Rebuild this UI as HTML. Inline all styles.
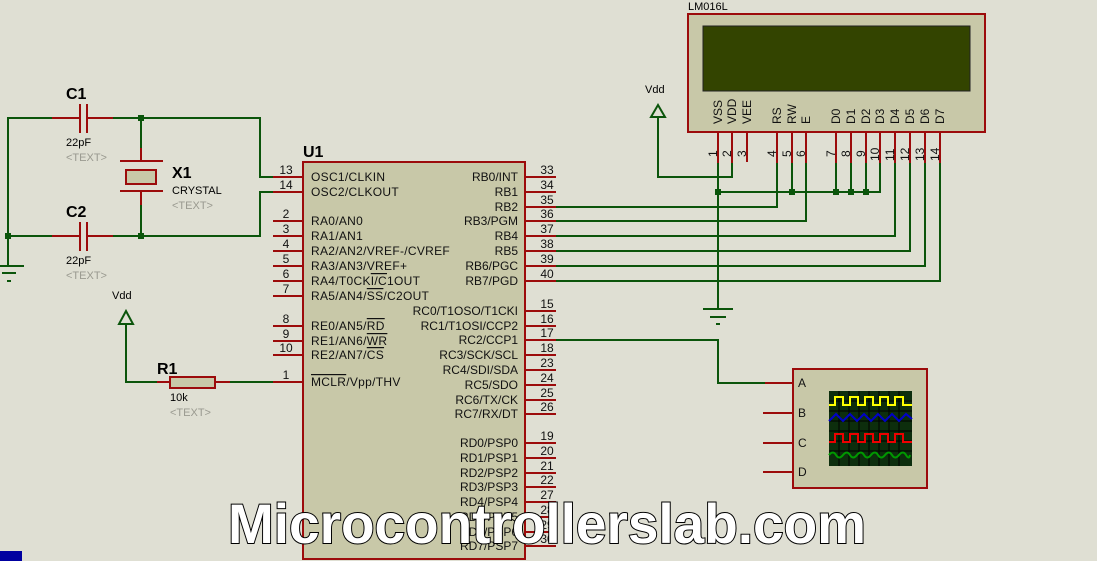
<!DOCTYPE html>
<html><head><meta charset="utf-8"><style>
html,body{margin:0;padding:0;background:#dfdfd3;}
svg{display:block;font-family:"Liberation Sans",sans-serif;}
.ov{text-decoration:overline;}
</style></head><body>
<svg width="1097" height="561" viewBox="0 0 1097 561" xmlns="http://www.w3.org/2000/svg">
<rect width="1097" height="561" fill="#dfdfd3"/>
<g fill="none" stroke="#0b550b" stroke-width="2">
<polyline points="52,118 8,118 8,266"/>
<line x1="8" y1="236" x2="52" y2="236"/>
<polyline points="113,118 260,118 260,177 273,177"/>
<polyline points="113,236 260,236 260,192 273,192"/>
<line x1="141" y1="118" x2="141" y2="148"/>
<line x1="141" y1="205" x2="141" y2="236"/>
<polyline points="126,324 126,382 157,382"/>
<line x1="230" y1="382" x2="273" y2="382"/>
<polyline points="658,117 658,177 732,177 732,163"/>
<line x1="718" y1="163" x2="718" y2="309"/>
<polyline points="718,192 880,192 880,163"/>
<line x1="792" y1="163" x2="792" y2="192"/>
<line x1="836" y1="163" x2="836" y2="192"/>
<line x1="851" y1="163" x2="851" y2="192"/>
<line x1="866" y1="163" x2="866" y2="192"/>
<polyline points="556,207 777,207 777,163"/>
<polyline points="556,221 806,221 806,163"/>
<polyline points="556,236 895,236 895,163"/>
<polyline points="556,251 910,251 910,163"/>
<polyline points="556,266 925,266 925,163"/>
<polyline points="556,281 940,281 940,163"/>
<polyline points="556,340 718,340 718,383 765,383"/>
</g>
<g fill="#0b550b">
<rect x="138" y="115" width="6" height="6"/><rect x="138" y="233" width="6" height="6"/><rect x="5" y="233" width="6" height="6"/>
<rect x="715" y="189" width="6" height="6"/><rect x="789" y="189" width="6" height="6"/><rect x="833" y="189" width="6" height="6"/><rect x="848" y="189" width="6" height="6"/><rect x="863" y="189" width="6" height="6"/>
<rect x="0" y="265" width="24" height="2"/><rect x="2" y="272" width="14" height="2"/><rect x="7" y="280" width="4" height="2"/>
<rect x="703" y="308" width="30" height="2"/><rect x="710" y="316" width="16" height="2"/><rect x="716" y="323" width="4" height="2"/>
</g>
<g fill="none" stroke="#0b550b" stroke-width="2">
<polygon points="658,105 651,117 665,117"/>
<polygon points="126,311 119,324 133,324"/>
</g>
<g font-size="11" fill="#000">
<text x="645" y="93">Vdd</text>
<text x="112" y="299">Vdd</text>
</g>
<g stroke="#9c0b0b" stroke-width="2" fill="none">
<line x1="52" y1="118" x2="80" y2="118"/><line x1="87" y1="118" x2="113" y2="118"/>
<line x1="80" y1="104" x2="80" y2="133"/><line x1="87" y1="104" x2="87" y2="133"/>
<line x1="52" y1="236" x2="80" y2="236"/><line x1="87" y1="236" x2="113" y2="236"/>
<line x1="80" y1="222" x2="80" y2="251"/><line x1="87" y1="222" x2="87" y2="251"/>
<line x1="141" y1="148" x2="141" y2="161"/><line x1="141" y1="191" x2="141" y2="205"/>
<line x1="120" y1="161" x2="163" y2="161"/><line x1="120" y1="191" x2="163" y2="191"/>
<rect x="126" y="170" width="30" height="14" fill="#c8c8a8"/>
<line x1="157" y1="382" x2="170" y2="382"/><line x1="215" y1="382" x2="230" y2="382"/>
<rect x="170" y="377" width="45" height="11" fill="#c8c8a8"/>
</g>
<g fill="#000">
<text x="66" y="99" font-size="16" font-weight="bold">C1</text>
<text x="66" y="217" font-size="16" font-weight="bold">C2</text>
<text x="172" y="178" font-size="16" font-weight="bold">X1</text>
<text x="157" y="374" font-size="16" font-weight="bold">R1</text>
<text x="303" y="157" font-size="16" font-weight="bold">U1</text>
<text x="66" y="146" font-size="11">22pF</text>
<text x="66" y="264" font-size="11">22pF</text>
<text x="172" y="194" font-size="11">CRYSTAL</text>
<text x="170" y="401" font-size="11">10k</text>
<text x="688" y="10" font-size="11">LM016L</text>
</g>
<g fill="#9a9a90" font-size="11">
<text x="66" y="161">&lt;TEXT&gt;</text><text x="66" y="279">&lt;TEXT&gt;</text>
<text x="172" y="209">&lt;TEXT&gt;</text><text x="170" y="416">&lt;TEXT&gt;</text>
<text x="688" y="23">&lt;TEXT&gt;</text>
</g>
<rect x="303" y="162" width="222" height="397" fill="#c8c8a8" stroke="#9c0b0b" stroke-width="2"/>
<g stroke="#9c0b0b" stroke-width="2">
<line x1="273" y1="177" x2="303" y2="177"/><line x1="273" y1="192" x2="303" y2="192"/>
<line x1="273" y1="221" x2="303" y2="221"/><line x1="273" y1="236" x2="303" y2="236"/>
<line x1="273" y1="251" x2="303" y2="251"/><line x1="273" y1="266" x2="303" y2="266"/>
<line x1="273" y1="281" x2="303" y2="281"/><line x1="273" y1="296" x2="303" y2="296"/>
<line x1="273" y1="326" x2="303" y2="326"/><line x1="273" y1="341" x2="303" y2="341"/>
<line x1="273" y1="355" x2="303" y2="355"/><line x1="273" y1="382" x2="303" y2="382"/>
<line x1="525" y1="177" x2="556" y2="177"/><line x1="525" y1="192" x2="556" y2="192"/>
<line x1="525" y1="207" x2="556" y2="207"/><line x1="525" y1="221" x2="556" y2="221"/>
<line x1="525" y1="236" x2="556" y2="236"/><line x1="525" y1="251" x2="556" y2="251"/>
<line x1="525" y1="266" x2="556" y2="266"/><line x1="525" y1="281" x2="556" y2="281"/>
<line x1="525" y1="311" x2="556" y2="311"/><line x1="525" y1="326" x2="556" y2="326"/>
<line x1="525" y1="340" x2="556" y2="340"/><line x1="525" y1="355" x2="556" y2="355"/>
<line x1="525" y1="370" x2="556" y2="370"/><line x1="525" y1="385" x2="556" y2="385"/>
<line x1="525" y1="400" x2="556" y2="400"/><line x1="525" y1="414" x2="556" y2="414"/>
<line x1="525" y1="443" x2="556" y2="443"/><line x1="525" y1="458" x2="556" y2="458"/>
<line x1="525" y1="473" x2="556" y2="473"/><line x1="525" y1="487" x2="556" y2="487"/>
<line x1="525" y1="502" x2="556" y2="502"/><line x1="525" y1="517" x2="556" y2="517"/>
<line x1="525" y1="532" x2="556" y2="532"/><line x1="525" y1="546" x2="556" y2="546"/>
</g>
<g font-size="12" fill="#111" letter-spacing="0.3">
<text x="311" y="181">OSC1/CLKIN</text><text x="311" y="196">OSC2/CLKOUT</text>
<text x="311" y="225">RA0/AN0</text><text x="311" y="240">RA1/AN1</text>
<text x="311" y="255">RA2/AN2/VREF-/CVREF</text><text x="311" y="270">RA3/AN3/VREF+</text>
<text x="311" y="285">RA4/T0CK<tspan class="ov">I/C</tspan>1OUT</text><text x="311" y="300">RA5/AN4/<tspan class="ov">SS</tspan>/C2OUT</text>
<text x="311" y="330">RE0/AN5/<tspan class="ov">RD</tspan></text><text x="311" y="345">RE1/AN6/<tspan class="ov">WR</tspan></text>
<text x="311" y="359">RE2/AN7/<tspan class="ov">CS</tspan></text><text x="311" y="386"><tspan class="ov">MCLR</tspan>/Vpp/THV</text>
</g>
<g font-size="12" fill="#111" text-anchor="end">
<text x="518" y="181">RB0/INT</text><text x="518" y="196">RB1</text><text x="518" y="211">RB2</text>
<text x="518" y="225">RB3/PGM</text><text x="518" y="240">RB4</text><text x="518" y="255">RB5</text>
<text x="518" y="270">RB6/PGC</text><text x="518" y="285">RB7/PGD</text>
<text x="518" y="315">RC0/T1OSO/T1CKI</text><text x="518" y="330">RC1/T1OSI/CCP2</text>
<text x="518" y="344">RC2/CCP1</text><text x="518" y="359">RC3/SCK/SCL</text>
<text x="518" y="374">RC4/SDI/SDA</text><text x="518" y="389">RC5/SDO</text>
<text x="518" y="404">RC6/TX/CK</text><text x="518" y="418">RC7/RX/DT</text>
<text x="518" y="447">RD0/PSP0</text><text x="518" y="462">RD1/PSP1</text>
<text x="518" y="477">RD2/PSP2</text><text x="518" y="491">RD3/PSP3</text>
<text x="518" y="506">RD4/PSP4</text><text x="518" y="521">RD5/PSP5</text>
<text x="518" y="536">RD6/PSP6</text><text x="518" y="550">RD7/PSP7</text>
</g>
<g font-size="12" fill="#111" text-anchor="middle">
<text x="286" y="174">13</text><text x="286" y="189">14</text><text x="286" y="218">2</text>
<text x="286" y="233">3</text><text x="286" y="248">4</text><text x="286" y="263">5</text>
<text x="286" y="278">6</text><text x="286" y="293">7</text><text x="286" y="323">8</text>
<text x="286" y="338">9</text><text x="286" y="352">10</text><text x="286" y="379">1</text>
<text x="547" y="174">33</text><text x="547" y="189">34</text><text x="547" y="204">35</text>
<text x="547" y="218">36</text><text x="547" y="233">37</text><text x="547" y="248">38</text>
<text x="547" y="263">39</text><text x="547" y="278">40</text><text x="547" y="308">15</text>
<text x="547" y="323">16</text><text x="547" y="337">17</text><text x="547" y="352">18</text>
<text x="547" y="367">23</text><text x="547" y="382">24</text><text x="547" y="397">25</text>
<text x="547" y="411">26</text><text x="547" y="440">19</text><text x="547" y="455">20</text>
<text x="547" y="470">21</text><text x="547" y="484">22</text><text x="547" y="499">27</text>
<text x="547" y="514">28</text><text x="547" y="529">29</text><text x="547" y="543">30</text>
</g>
<rect x="688" y="14" width="297" height="118" fill="#c8c8a8" stroke="#9c0b0b" stroke-width="2"/>
<rect x="703" y="26" width="267" height="65" fill="#334400" stroke="#222" stroke-width="1"/>
<g stroke="#9c0b0b" stroke-width="2">
<line x1="718" y1="132" x2="718" y2="163"/><line x1="732" y1="132" x2="732" y2="163"/><line x1="747" y1="132" x2="747" y2="162"/>
<line x1="777" y1="132" x2="777" y2="163"/><line x1="792" y1="132" x2="792" y2="163"/><line x1="806" y1="132" x2="806" y2="163"/>
<line x1="836" y1="132" x2="836" y2="163"/><line x1="851" y1="132" x2="851" y2="163"/><line x1="866" y1="132" x2="866" y2="163"/>
<line x1="880" y1="132" x2="880" y2="163"/><line x1="895" y1="132" x2="895" y2="163"/><line x1="910" y1="132" x2="910" y2="163"/>
<line x1="925" y1="132" x2="925" y2="163"/><line x1="940" y1="132" x2="940" y2="163"/>
</g>
<g font-size="12" fill="#111">
<text transform="translate(722,124) rotate(-90)">VSS</text><text transform="translate(736,124) rotate(-90)">VDD</text>
<text transform="translate(751,124) rotate(-90)">VEE</text><text transform="translate(781,124) rotate(-90)">RS</text>
<text transform="translate(796,124) rotate(-90)">RW</text><text transform="translate(810,124) rotate(-90)">E</text>
<text transform="translate(840,124) rotate(-90)">D0</text><text transform="translate(855,124) rotate(-90)">D1</text>
<text transform="translate(870,124) rotate(-90)">D2</text><text transform="translate(884,124) rotate(-90)">D3</text>
<text transform="translate(899,124) rotate(-90)">D4</text><text transform="translate(914,124) rotate(-90)">D5</text>
<text transform="translate(929,124) rotate(-90)">D6</text><text transform="translate(944,124) rotate(-90)">D7</text>
<text transform="translate(717,157) rotate(-90)">1</text><text transform="translate(731,157) rotate(-90)">2</text>
<text transform="translate(746,157) rotate(-90)">3</text><text transform="translate(776,157) rotate(-90)">4</text>
<text transform="translate(791,157) rotate(-90)">5</text><text transform="translate(805,157) rotate(-90)">6</text>
<text transform="translate(835,157) rotate(-90)">7</text><text transform="translate(850,157) rotate(-90)">8</text>
<text transform="translate(865,157) rotate(-90)">9</text><text transform="translate(879,161) rotate(-90)">10</text>
<text transform="translate(894,161) rotate(-90)">11</text><text transform="translate(909,161) rotate(-90)">12</text>
<text transform="translate(924,161) rotate(-90)">13</text><text transform="translate(939,161) rotate(-90)">14</text>
</g>
<rect x="793" y="369" width="134" height="119" fill="#c8c8a8" stroke="#9c0b0b" stroke-width="2"/>
<g stroke="#9c0b0b" stroke-width="2">
<line x1="765" y1="383" x2="793" y2="383"/><line x1="763" y1="413" x2="793" y2="413"/>
<line x1="763" y1="443" x2="793" y2="443"/><line x1="763" y1="472" x2="793" y2="472"/>
</g>
<g font-size="12" fill="#111"><text x="798" y="387">A</text><text x="798" y="417">B</text><text x="798" y="447">C</text><text x="798" y="476">D</text></g>
<rect x="829" y="391" width="83" height="75" fill="#0d2e0d"/>
<g stroke="#000" stroke-width="1">
<line x1="829" y1="401" x2="912" y2="401"/><line x1="829" y1="411" x2="912" y2="411"/><line x1="829" y1="421" x2="912" y2="421"/>
<line x1="829" y1="431" x2="912" y2="431"/><line x1="829" y1="441" x2="912" y2="441"/><line x1="829" y1="451" x2="912" y2="451"/>
<line x1="839" y1="391" x2="839" y2="466"/><line x1="849" y1="391" x2="849" y2="466"/><line x1="859" y1="391" x2="859" y2="466"/>
<line x1="869" y1="391" x2="869" y2="466"/><line x1="879" y1="391" x2="879" y2="466"/><line x1="889" y1="391" x2="889" y2="466"/><line x1="899" y1="391" x2="899" y2="466"/>
</g>
<g fill="none" stroke-width="2">
<polyline stroke="#ffff00" points="829,405 835,405 835,397 843,397 843,405 850,405 850,397 858,397 858,405 865,405 865,397 873,397 873,405 880,405 880,397 888,397 888,405 895,405 895,397 903,397 903,405 912,405"/>
<polyline stroke="#0000cc" points="829,421 836,414 843,421 850,414 857,421 864,414 871,421 878,414 885,421 892,414 899,421 906,414 912,419"/>
<polyline stroke="#ee0000" points="829,442 835,442 835,434 843,434 843,442 850,442 850,434 858,434 858,442 865,442 865,434 873,434 873,442 880,442 880,434 888,434 888,442 895,442 895,434 903,434 903,442 912,442"/>
<path stroke="#009900" d="M829,455 q4,-5 7,0 t7,0 t7,0 t7,0 t7,0 t7,0 t7,0 t7,0 t7,0 t7,0 t7,0 t4,0"/>
</g>
<text x="228" y="543" font-size="56" font-weight="bold" fill="#fff" stroke="#000" stroke-width="2" paint-order="stroke" textLength="638" lengthAdjust="spacingAndGlyphs">Microcontrollerslab.com</text>
<rect x="0" y="551" width="22" height="10" fill="#0000a0"/>
</svg>
</body></html>
